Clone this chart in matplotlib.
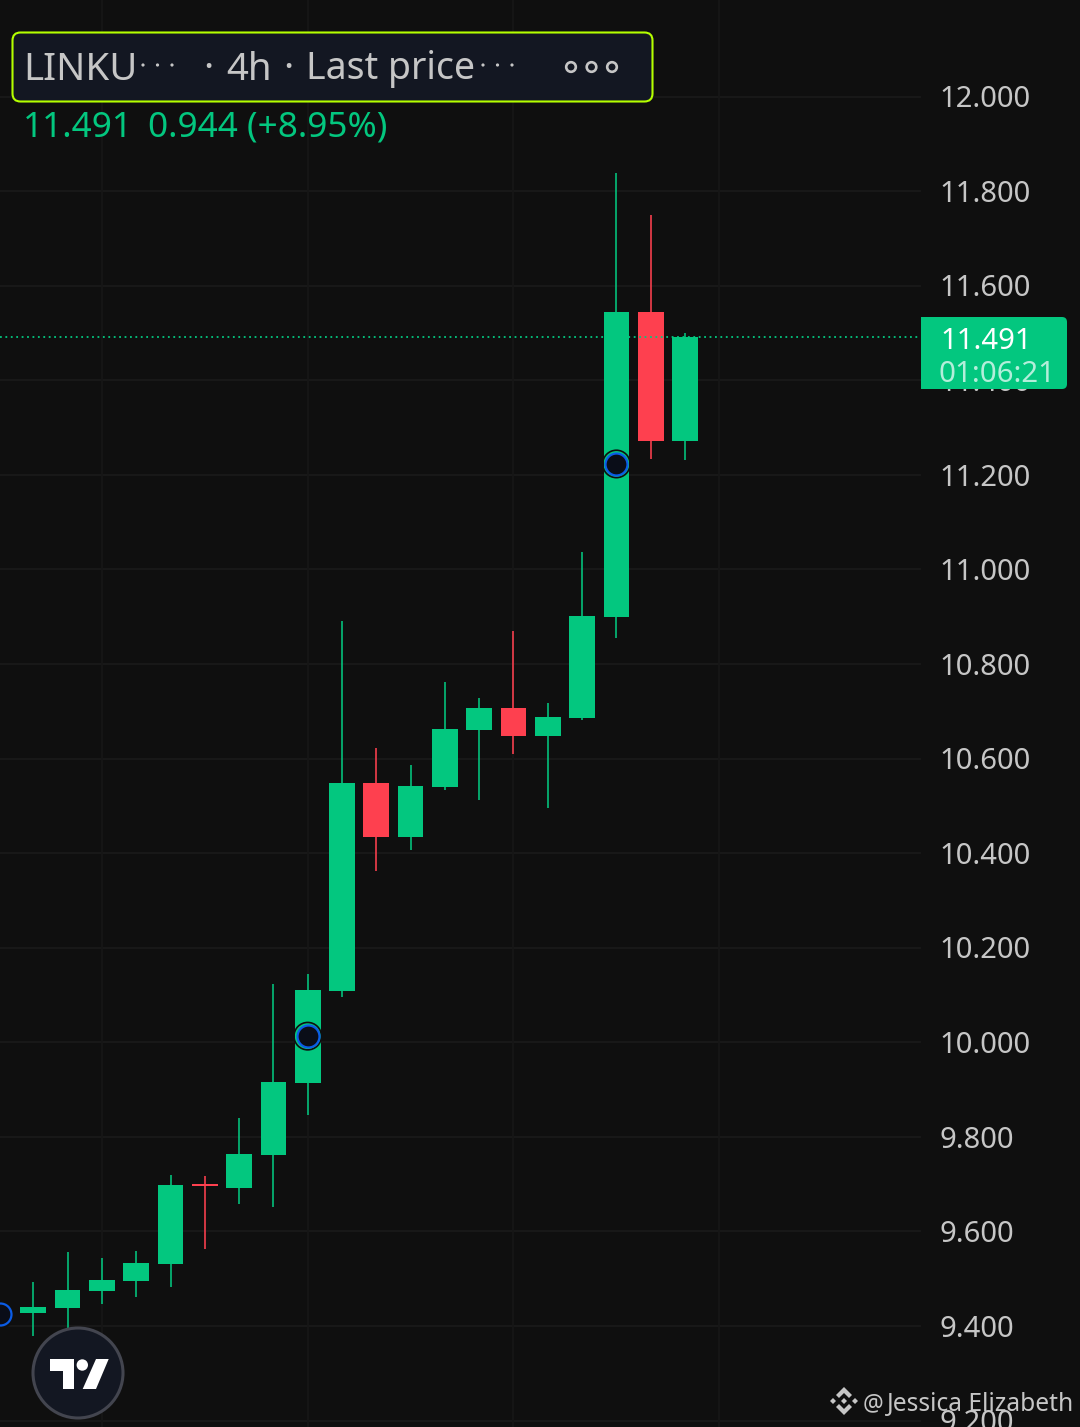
import matplotlib
matplotlib.use("Agg")
import matplotlib.pyplot as plt
from matplotlib.patches import Circle, FancyBboxPatch, Polygon, Rectangle

plt.rcParams['font.family'] = ['Noto Sans', 'DejaVu Sans']
plt.rcParams['font.weight'] = 'light'

# candles, oldest first
opens  = [9.428, 9.438, 9.474, 9.495, 9.531, 9.700, 9.692, 9.762, 9.914, 10.109,
          10.548, 10.434, 10.540, 10.660, 10.707, 10.648, 10.686, 10.899, 11.544, 11.272]
highs  = [9.493, 9.557, 9.544, 9.559, 9.719, 9.717, 9.840, 10.123, 10.144, 10.891,
          10.622, 10.586, 10.762, 10.728, 10.870, 10.717, 11.037, 11.838, 11.749, 11.500]
lows   = [9.379, 9.396, 9.447, 9.461, 9.483, 9.563, 9.658, 9.652, 9.846, 10.096,
          10.362, 10.407, 10.534, 10.512, 10.610, 10.495, 10.681, 10.855, 11.233, 11.231]
closes = [9.440, 9.476, 9.497, 9.533, 9.698, 9.697, 9.764, 9.916, 10.111, 10.548,
          10.434, 10.542, 10.663, 10.707, 10.648, 10.688, 10.901, 11.544, 11.272, 11.491]

price_ticks = [9.2, 9.4, 9.6, 9.8, 10.0, 10.2, 10.4, 10.6, 10.8, 11.0, 11.2, 11.4, 11.6, 11.8, 12.0]
time_grid = [2, 8, 14, 20]
marker_idx = [-0.96, 8, 17]
marker_price = [9.425, 10.013, 11.223]
last_price = 11.491

BG = '#0f0f0f'
GRID = '#191919'
GREEN = '#03c77f'
RED = '#fe404f'
TEXT = '#c6c6c6'
PANEL = '#131722'

W, H = 1080, 1427
fig = plt.figure(figsize=(W / 100, H / 100), dpi=100, facecolor=BG)

# --- price chart: 34.3 px per candle, 472.9 px per price unit
ax = fig.add_axes([0, 0, 1, 1])
ax.set_facecolor(BG)
ax.set_xlim((0 - 33.3) / 34.3, (W - 33.3) / 34.3)
ax.set_ylim(12 - (H - 96.5) / 472.9, 12 + 96.5 / 472.9)
ax.axis('off')

ytrans = ax.get_yaxis_transform()
for p in price_ticks:
    ax.plot([0, 920 / W], [p, p], transform=ytrans, color=GRID, lw=1.3, zorder=1)
for t in time_grid:
    ax.axvline(t, color='#161616', lw=1.3, zorder=1)

for i in range(len(opens)):
    col = GREEN if closes[i] >= opens[i] else RED
    ax.vlines(i, lows[i], highs[i], color=col, lw=1.15, zorder=2)
    bottom = min(opens[i], closes[i])
    height = max(abs(closes[i] - opens[i]), 0.003)
    ax.bar(i, height, bottom=bottom, width=0.75, color=col, lw=0, zorder=3)

ax.plot([0, 920 / W], [last_price, last_price], transform=ytrans, color=GREEN,
        lw=1.3, ls=(0, (1, 2)), zorder=4)

ax.scatter(marker_idx, marker_price, s=390, facecolor='none', edgecolor=BG, lw=1.2, zorder=5)
ax.scatter(marker_idx, marker_price, s=250, facecolor='#0a0d18', edgecolor='#0b5ce6', lw=1.6, zorder=6)

for p in price_ticks:
    ax.annotate(f'{p:.3f}', xy=(940 / W, p), xycoords=ytrans, xytext=(-0.5, 0.2),
                textcoords='offset points', color=TEXT, fontsize=21,
                va='center_baseline', ha='left', zorder=7)

# --- overlay in pixel coordinates for the app's ui pieces
ui = fig.add_axes([0, 0, 1, 1], facecolor='none')
ui.set_xlim(0, W)
ui.set_ylim(H, 0)
ui.axis('off')

# legend panel
ui.add_patch(FancyBboxPatch((12.5, 32.5), 640, 69, boxstyle='round,pad=0,rounding_size=8',
                            fc=PANEL, ec='#b4ff00', lw=1.5))
ui.text(23.5, 65, 'LINKU', color=TEXT, fontsize=27.7, va='center_baseline')
ui.text(203, 65, '·', color=TEXT, fontsize=27.7, va='center_baseline')
ui.text(226, 65, '4h', color=TEXT, fontsize=27.7, va='center_baseline')
ui.text(283, 65, '·', color=TEXT, fontsize=27.7, va='center_baseline')
ui.text(306, 65, 'Last price', color=TEXT, fontsize=27, va='center_baseline')
for x in (143, 157.5, 172, 483, 497.5, 512):
    ui.add_patch(Circle((x, 65), 1.6, fc=TEXT, ec='none'))
for x in (571, 591.5, 612):
    ui.add_patch(Circle((x, 67), 4.8, fc='none', ec=TEXT, lw=1.9))
ui.text(23, 124, '11.491', color=GREEN, fontsize=25.3, va='center_baseline')
ui.text(148, 124, '0.944 (+8.95%)', color=GREEN, fontsize=25.3, va='center_baseline')

# last price tag
ui.add_patch(FancyBboxPatch((921, 317), 146, 72, boxstyle='round,pad=0,rounding_size=5',
                            fc=GREEN, ec='none'))
ui.add_patch(Rectangle((921, 317), 40, 72, fc=GREEN, ec='none'))
ui.text(940, 338, '11.491', color='white', fontsize=21, va='center_baseline')
ui.text(939, 371, '01:06:21', color='#b3eeda', fontsize=21.2, va='center_baseline')

# tradingview badge
ui.add_patch(Circle((78, 1373), 45, fc=PANEL, ec='#43454f', lw=2.2))
ui.add_patch(Polygon([(50, 1359), (74, 1359), (74, 1389), (63.3, 1389), (63.3, 1370.7), (50, 1370.7)],
                     fc='white', ec='none'))
ui.add_patch(Circle((82.3, 1365), 5.7, fc='white', ec='none'))
ui.add_patch(Polygon([(96, 1359), (108.7, 1359), (96, 1389), (82.7, 1389)], fc='white', ec='none'))

# binance watermark
cx, cy = 844, 1401
ui.add_patch(Polygon([(cx, cy - 14), (cx + 8, cy - 6), (cx + 5, cy - 3), (cx, cy - 8), (cx - 5, cy - 3), (cx - 8, cy - 6)],
                     fc=TEXT, ec='none'))
ui.add_patch(Polygon([(cx, cy + 14), (cx + 8, cy + 6), (cx + 5, cy + 3), (cx, cy + 8), (cx - 5, cy + 3), (cx - 8, cy + 6)],
                     fc=TEXT, ec='none'))
for dx in (-11, 0, 11):
    r = 3
    ui.add_patch(Polygon([(cx + dx, cy - r), (cx + dx + r, cy), (cx + dx, cy + r), (cx + dx - r, cy)],
                         fc=TEXT, ec='none'))
ui.text(863, 1401, '@', color=TEXT, fontsize=16.5, va='center_baseline')
ui.text(887, 1401, 'Jessica Elizabeth', color=TEXT, fontsize=17.7, va='center_baseline')

fig.savefig('out.png', dpi=100, facecolor=BG)
